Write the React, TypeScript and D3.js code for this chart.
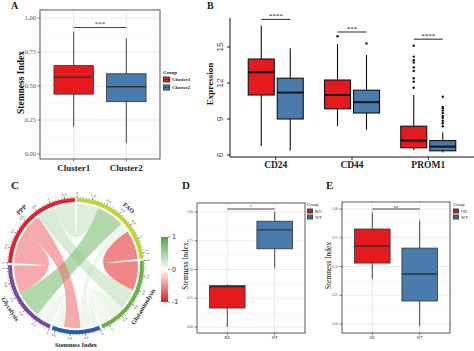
import React from 'react';
import * as d3 from 'd3';

const SERIF = '"Liberation Serif", "Times New Roman", serif';
const SANS = '"Liberation Sans", Arial, sans-serif';
const RED = '#E41A1C';
const BLUE = '#4A7BAD';

// A: stemness index by cluster  [min, q1, median, q3, max]
const clusterGroups = ['Cluster1', 'Cluster2'];
const clusterStats = [
  [0.2, 0.44, 0.565, 0.65, 0.9],
  [0.08, 0.385, 0.495, 0.59, 0.85],
];
const indexTicks = [0, 0.25, 0.5, 0.75, 1];
const indexTickLabels = ['0.00', '0.25', '0.50', '0.75', '1.00'];

// B: marker expression
const genes = ['CD24', 'CD44', 'PROM1'];
const exprTicks = [6, 9, 12, 15];
const c1Expr = [
  [6.75, 11.0, 12.9, 14.0, 16.8],
  [8.4, 9.85, 11.0, 12.25, 15.25],
  [6.4, 6.6, 7.2, 8.4, 11.0],
];
const c2Expr = [
  [6.35, 9.0, 11.2, 12.4, 14.9],
  [8.1, 9.5, 10.4, 11.4, 14.35],
  [6.2, 6.35, 6.7, 7.2, 7.9],
];
const c1Outliers = [[], [15.9], [15.1, 14.2, 13.9, 13.7, 13.3, 13.0, 12.4, 12.1, 11.6]];
const c2Outliers = [[], [15.3], [10.85, 10.0, 9.9, 9.7, 9.5, 9.25, 9.1, 8.85, 8.65, 8.4]];
const exprSig = ['****', '***', '****'];
const exprSigLevel = [17.3, 16.25, 15.65];

// C: correlation chord diagram (sector order clockwise from top)
const chordSectors = ['FAO', 'Glutaminolysis', 'Stemness Index', 'Glycolysis', 'PPP'];
const chordSizes = [1.27, 1.1, 0.65, 1.04, 1.33];
const chordSectorColors = ['#BFD530', '#6CB24B', '#2D5CA6', '#7C4A9C', '#E2232A'];
// [sector, from, to, sector, from, to, correlation]
const chordLinks: [string, number, number, string, number, number, number][] = [
  ['Glutaminolysis', 0.72, 0.92, 'Stemness Index', 0.0, 0.07, 0.15],
  ['Glutaminolysis', 0.92, 1.1, 'Stemness Index', 0.07, 0.14, 0.12],
  ['Stemness Index', 0.5, 0.58, 'Glycolysis', 0.0, 0.12, 0.15],
  ['Stemness Index', 0.58, 0.65, 'Glycolysis', 0.12, 0.24, 0.12],
  ['FAO', 0.71, 0.85, 'Stemness Index', 0.14, 0.26, 0.15],
  ['PPP', 1.02, 1.33, 'FAO', 0.0, 0.31, 0.3],
  ['Glutaminolysis', 0.42, 0.72, 'PPP', 0.76, 1.02, 0.35],
  ['FAO', 0.31, 0.71, 'Glycolysis', 0.24, 0.64, 0.7],
  ['FAO', 0.85, 1.27, 'Glutaminolysis', 0.0, 0.42, -0.85],
  ['Stemness Index', 0.26, 0.5, 'PPP', 0.46, 0.76, -0.6],
  ['Glycolysis', 0.64, 1.04, 'PPP', 0.0, 0.46, -0.6],
];
const corrLegendTicks = [1, 0, -1];

// D / E: knock-out and over-expression
const koGroups = ['KO', 'WT'];
const koStats = [
  [0.0, 0.165, 0.35, 0.36, 0.37],
  [0.51, 0.68, 0.845, 0.92, 1.0],
];
const oeGroups = ['OE', 'WT'];
const oeStats = [
  [0.39, 0.53, 0.678, 0.826, 0.97],
  [-0.02, 0.2, 0.435, 0.66, 0.9],
];

const corrColor = d3.scaleLinear<string>().domain([-1, 0, 1]).range([RED, '#ffffff', '#4DA83F']);

type BoxProps = {
  frame: [number, number, number, number];
  yRange: [number, number];
  groups: string[];
  stats: number[][];
  sig: string;
  sigLevel: number;
  tickFont: number;
  title: { x: number; size: number; bold: boolean };
  xLab: { y: number; size: number; bold: boolean };
  legend: { x: number; y: number; size: number; key: number; gap: number };
  sigFont: number;
};

function BoxPanel(p: BoxProps) {
  const [L, T, R, B] = p.frame;
  const y = d3.scaleLinear().domain([0, 1]).range(p.yRange);
  const x = d3.scalePoint().domain(p.groups).range([L, R]).padding(0.64);
  const bw = x.step() * 0.75;
  const minor = d3.range(0.125, 1, 0.25);
  const colors = [RED, BLUE];
  const fw = (b: boolean) => (b ? 'bold' : 'normal');
  const midY = (T + B) / 2 - 2;
  return (
    <g>
      <rect x={L} y={T} width={R - L} height={B - T} fill="#fff" />
      {minor.map(v => (
        <line key={'mn' + v} x1={L} x2={R} y1={y(v)} y2={y(v)} stroke="#f3f3f3" strokeWidth={0.5} />
      ))}
      {indexTicks.map(v => (
        <line key={'mj' + v} x1={L} x2={R} y1={y(v)} y2={y(v)} stroke="#e4e4e4" strokeWidth={0.8} />
      ))}
      {p.groups.map(g => (
        <line key={'vg' + g} x1={x(g)} x2={x(g)} y1={T} y2={B} stroke="#e4e4e4" strokeWidth={0.8} />
      ))}
      {p.groups.map((g, i) => {
        const s = p.stats[i];
        const cx = x(g)!;
        return (
          <g key={'bx' + g}>
            <line x1={cx} x2={cx} y1={y(s[4])} y2={y(s[3])} stroke="#333" strokeWidth={0.9} />
            <line x1={cx} x2={cx} y1={y(s[1])} y2={y(s[0])} stroke="#333" strokeWidth={0.9} />
            <rect x={cx - bw / 2} y={y(s[3])} width={bw} height={y(s[1]) - y(s[3])} fill={colors[i]} stroke="#333" strokeWidth={0.8} />
            <line x1={cx - bw / 2} x2={cx + bw / 2} y1={y(s[2])} y2={y(s[2])} stroke="#333" strokeWidth={1.4} />
          </g>
        );
      })}
      <line x1={x(p.groups[0])} x2={x(p.groups[1])} y1={y(p.sigLevel)} y2={y(p.sigLevel)} stroke="#333" strokeWidth={0.9} />
      <text x={(x(p.groups[0])! + x(p.groups[1])!) / 2} y={y(p.sigLevel) - 1.5} textAnchor="middle" fontFamily={SERIF} fontSize={p.sigFont} fill="#333">
        {p.sig}
      </text>
      <rect x={L} y={T} width={R - L} height={B - T} fill="none" stroke="#444" strokeWidth={0.9} />
      {indexTicks.map((v, i) => (
        <g key={'tk' + v}>
          <line x1={L - 2.5} x2={L} y1={y(v)} y2={y(v)} stroke="#444" strokeWidth={0.7} />
          <text x={L - 4} y={y(v)} dy="0.35em" textAnchor="end" fontFamily={SERIF} fontSize={p.tickFont} fill="#555">
            {indexTickLabels[i]}
          </text>
        </g>
      ))}
      {p.groups.map(g => (
        <g key={'xt' + g}>
          <line x1={x(g)} x2={x(g)} y1={B} y2={B + 2.5} stroke="#444" strokeWidth={0.7} />
          <text x={x(g)} y={p.xLab.y} textAnchor="middle" fontFamily={SERIF} fontWeight={fw(p.xLab.bold)} fontSize={p.xLab.size} fill="#222">
            {g}
          </text>
        </g>
      ))}
      <text
        transform={`translate(${p.title.x},${midY}) rotate(-90)`}
        textAnchor="middle"
        dy="0.35em"
        fontFamily={SERIF}
        fontWeight={fw(p.title.bold)}
        fontSize={p.title.size}
        fill="#111"
      >
        Stemness Index
      </text>
      <text x={p.legend.x} y={p.legend.y} fontFamily={SERIF} fontWeight={fw(p.title.bold)} fontSize={p.legend.size} fill="#222">
        Group
      </text>
      {p.groups.map((g, i) => {
        const ky = p.legend.y + 3 + i * p.legend.gap;
        return (
          <g key={'lg' + g}>
            <rect x={p.legend.x + 0.5} y={ky} width={p.legend.key} height={p.legend.key - 1} fill={colors[i]} stroke="#333" strokeWidth={0.9} />
            <line x1={p.legend.x + 0.5} x2={p.legend.x + 0.5 + p.legend.key} y1={ky + (p.legend.key - 1) / 2} y2={ky + (p.legend.key - 1) / 2} stroke="#333" strokeWidth={0.7} />
            <text x={p.legend.x + p.legend.key + 3} y={ky + (p.legend.key - 1) / 2} dy="0.35em" fontFamily={SERIF} fontWeight={fw(p.title.bold)} fontSize={p.legend.size} fill="#222">
              {g}
            </text>
          </g>
        );
      })}
    </g>
  );
}

function ExpressionPanel() {
  const x = d3.scalePoint().domain(genes).range([230, 474]).padding(0.6);
  const y = d3.scaleLinear().domain([6, 15]).range([155, 47]);
  const dodge = 14.5;
  const bw = 26;
  const series = [
    { stats: c1Expr, out: c1Outliers, color: RED, off: -dodge },
    { stats: c2Expr, out: c2Outliers, color: BLUE, off: dodge },
  ];
  return (
    <g>
      {series.map((sr, si) =>
        genes.map((g, gi) => {
          const s = sr.stats[gi];
          const cx = x(g)! + sr.off;
          return (
            <g key={`b${si}${g}`}>
              <line x1={cx} x2={cx} y1={y(s[4])} y2={y(s[0])} stroke="#111" strokeWidth={1.1} />
              <rect x={cx - bw / 2} y={y(s[3])} width={bw} height={y(s[1]) - y(s[3])} fill={sr.color} stroke="#111" strokeWidth={1.1} />
              <line x1={cx - bw / 2} x2={cx + bw / 2} y1={y(s[2])} y2={y(s[2])} stroke="#111" strokeWidth={2} />
              {sr.out[gi].map((v, k) => (
                <circle key={k} cx={cx} cy={y(v)} r={1.2} fill="#111" />
              ))}
            </g>
          );
        })
      )}
      {genes.map((g, gi) => (
        <g key={'sig' + g}>
          <line x1={x(g)! - dodge} x2={x(g)! + dodge} y1={y(exprSigLevel[gi])} y2={y(exprSigLevel[gi])} stroke="#111" strokeWidth={0.9} />
          <text x={x(g)} y={y(exprSigLevel[gi]) - 1.5} textAnchor="middle" fontFamily={SERIF} fontSize={7} fill="#111">
            {exprSig[gi]}
          </text>
        </g>
      ))}
      <line x1={230} x2={230} y1={18} y2={157} stroke="#111" strokeWidth={1} />
      <line x1={230} x2={474} y1={157} y2={157} stroke="#111" strokeWidth={1} />
      {exprTicks.map(v => (
        <g key={'yt' + v}>
          <line x1={227} x2={230} y1={y(v)} y2={y(v)} stroke="#111" strokeWidth={0.9} />
          <text transform={`translate(223,${y(v)}) rotate(-90)`} textAnchor="middle" fontFamily={SANS} fontSize={8.5} fill="#555">
            {v}
          </text>
        </g>
      ))}
      {genes.map(g => (
        <g key={'xt' + g}>
          <line x1={x(g)} x2={x(g)} y1={157} y2={160} stroke="#111" strokeWidth={0.9} />
          <text x={x(g)} y={168} textAnchor="middle" fontFamily={SERIF} fontWeight="bold" fontSize={9.5} fill="#222">
            {g}
          </text>
        </g>
      ))}
      <text transform="translate(210,84) rotate(-90)" textAnchor="middle" dy="0.35em" fontFamily={SERIF} fontWeight="bold" fontSize={9} fill="#111">
        Expression
      </text>
    </g>
  );
}

function ChordPanel() {
  const cx = 76;
  const cy = 266;
  const rChord = 62;
  const rIn = 64;
  const rOut = 68;
  const gap = (2 * Math.PI) / 180;
  const total = d3.sum(chordSizes);
  const span = 2 * Math.PI - gap * chordSizes.length;
  let start = gap / 2;
  const scales: Record<string, d3.ScaleLinear<number, number>> = {};
  chordSectors.forEach((s, i) => {
    const end = start + (chordSizes[i] / total) * span;
    scales[s] = d3.scaleLinear().domain([0, chordSizes[i]]).range([start, end]);
    start = end + gap;
  });
  const arc = d3.arc<any>().innerRadius(rIn).outerRadius(rOut);
  const ribbon = d3.ribbon<any, any>().radius(rChord);
  const pt = (a: number, r: number) => [cx + r * Math.sin(a), cy - r * Math.cos(a)];
  const facing = (a: number) => {
    const deg = (a * 180) / Math.PI;
    return deg > 90 && deg < 270 ? deg - 180 : deg;
  };
  const fmt = (v: number) => String(Math.round(v * 10) / 10);
  return (
    <g>
      <g transform={`translate(${cx},${cy})`}>
        {chordLinks.map((l, i) => {
          const a = scales[l[0]];
          const b = scales[l[3]];
          const d = ribbon({
            source: { startAngle: a(l[1]), endAngle: a(l[2]) },
            target: { startAngle: b(l[4]), endAngle: b(l[5]) },
          } as any) as unknown as string;
          return <path key={i} d={d} fill={corrColor(l[6])} fillOpacity={0.62} stroke="none" />;
        })}
        {chordSectors.map((s, i) => (
          <path key={s} d={arc({ startAngle: scales[s].range()[0], endAngle: scales[s].range()[1] }) as string} fill={chordSectorColors[i]} />
        ))}
      </g>
      {chordSectors.map((s, i) => {
        const sc = scales[s];
        const minorT = d3.range(0, chordSizes[i] + 1e-6, 0.04);
        const majorT = d3.range(0, chordSizes[i] + 1e-6, 0.2);
        const mid = (sc.range()[0] + sc.range()[1]) / 2;
        const [lx, ly] = pt(mid, 78.5);
        return (
          <g key={'ax' + s}>
            {minorT.map((v, k) => {
              const [x1, y1] = pt(sc(v), rOut);
              const [x2, y2] = pt(sc(v), rOut + 1.4);
              return <line key={k} x1={x1} y1={y1} x2={x2} y2={y2} stroke="#333" strokeWidth={0.4} />;
            })}
            {majorT.map((v, k) => {
              const [x1, y1] = pt(sc(v), rOut);
              const [x2, y2] = pt(sc(v), rOut + 2.4);
              const [tx, ty] = pt(sc(v), rOut + 4.6);
              return (
                <g key={'M' + k}>
                  <line x1={x1} y1={y1} x2={x2} y2={y2} stroke="#333" strokeWidth={0.5} />
                  <text transform={`translate(${tx},${ty}) rotate(${facing(sc(v))})`} textAnchor="middle" dy="0.35em" fontFamily={SANS} fontSize={3.3} fill="#444">
                    {fmt(v)}
                  </text>
                </g>
              );
            })}
            <text transform={`translate(${lx},${ly}) rotate(${facing(mid)})`} textAnchor="middle" dy="0.35em" fontFamily={SERIF} fontWeight="bold" fontSize={6.3} fill="#222">
              {s}
            </text>
          </g>
        );
      })}
    </g>
  );
}

function CorrLegend() {
  const y = d3.scaleLinear().domain([1, -1]).range([237, 302]);
  const stops = d3.range(0, 1.0001, 0.1);
  return (
    <g>
      <defs>
        <linearGradient id="corrGrad" x1="0" y1="0" x2="0" y2="1">
          {stops.map(t => (
            <stop key={t} offset={t} stopColor={corrColor(1 - 2 * t)} />
          ))}
        </linearGradient>
      </defs>
      <rect x={161} y={y(1)} width={7} height={y(-1) - y(1)} fill="url(#corrGrad)" />
      {corrLegendTicks.map(v => (
        <g key={v}>
          <line x1={168} x2={170} y1={y(v)} y2={y(v)} stroke="#444" strokeWidth={0.6} />
          <text x={172} y={y(v)} dy="0.35em" fontFamily={SANS} fontSize={7} fill="#333">
            {v}
          </text>
        </g>
      ))}
    </g>
  );
}

export default function App() {
  return (
    <svg width={474} height={351} style={{ position: 'absolute', left: 0, top: 0, background: '#fff' }}>
      <rect width={474} height={351} fill="#fff" />
      <text x={11} y={9} fontFamily={SERIF} fontWeight="bold" fontSize={10} fill="#222">A</text>
      <text x={207} y={9} fontFamily={SERIF} fontWeight="bold" fontSize={10} fill="#222">B</text>
      <text x={11} y={189} fontFamily={SERIF} fontWeight="bold" fontSize={11} fill="#222">C</text>
      <text x={182} y={189} fontFamily={SERIF} fontWeight="bold" fontSize={11} fill="#222">D</text>
      <text x={326} y={189} fontFamily={SERIF} fontWeight="bold" fontSize={11} fill="#222">E</text>
      <BoxPanel
        frame={[40, 10, 160, 159]}
        yRange={[154, 18]}
        groups={clusterGroups}
        stats={clusterStats}
        sig="***"
        sigLevel={0.93}
        sigFont={7}
        tickFont={6.5}
        title={{ x: 21, size: 9.5, bold: true }}
        xLab={{ y: 171, size: 9, bold: true }}
        legend={{ x: 163, y: 74, size: 5, key: 6, gap: 8 }}
      />
      <ExpressionPanel />
      <ChordPanel />
      <CorrLegend />
      <BoxPanel
        frame={[197, 203, 305, 333]}
        yRange={[327, 212]}
        groups={koGroups}
        stats={koStats}
        sig="*"
        sigLevel={1.026}
        sigFont={5}
        tickFont={3.5}
        title={{ x: 185, size: 7.5, bold: false }}
        xLab={{ y: 339, size: 3.8, bold: false }}
        legend={{ x: 307, y: 206, size: 4.5, key: 5, gap: 6 }}
      />
      <BoxPanel
        frame={[342, 202, 450, 333]}
        yRange={[324, 209]}
        groups={oeGroups}
        stats={oeStats}
        sig="ns"
        sigLevel={1.0}
        sigFont={5}
        tickFont={3.5}
        title={{ x: 328, size: 7.5, bold: false }}
        xLab={{ y: 339, size: 3.8, bold: false }}
        legend={{ x: 453, y: 206, size: 4.5, key: 5, gap: 6 }}
      />
    </svg>
  );
}
